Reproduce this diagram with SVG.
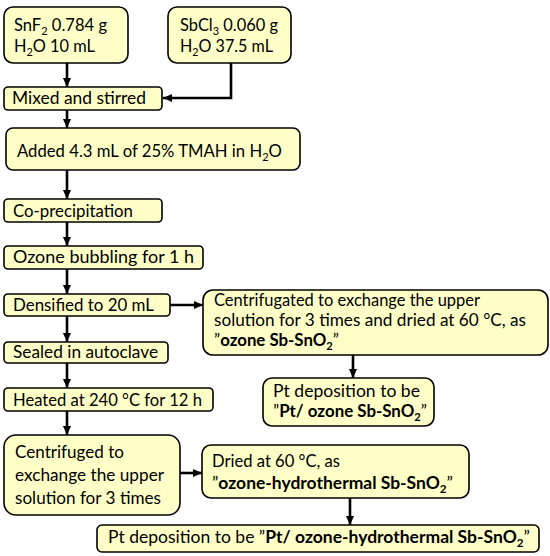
<svg xmlns="http://www.w3.org/2000/svg" width="550" height="556" viewBox="0 0 550 556">
<defs>
<marker id="ah" viewBox="0 0 10 10" refX="10" refY="5" markerWidth="3.6" markerHeight="3.6" markerUnits="strokeWidth" orient="auto">
<path d="M0,0.5 L10,5 L0,9.5 Z" fill="#000"/>
</marker>
<style>
.box{fill:#FFFFC8;stroke:#000;stroke-width:1.6}
text{font-family:Lato,"Open Sans","Liberation Sans",sans-serif;font-size:16.5px;fill:#000}
.b{font-weight:bold}
.s{font-size:11px}
.c{fill:none;stroke:#000;stroke-width:2.6;marker-end:url(#ah)}
</style>
</defs>
<rect width="550" height="556" fill="#fff"/>
<g id="connectors">
<path class="c" d="M67,63 V87"/>
<path class="c" d="M231,63 V98 H163"/>
<path class="c" d="M67,110 V128"/>
<path class="c" d="M67,170 V199"/>
<path class="c" d="M67,222 V246"/>
<path class="c" d="M67,269 V294"/>
<path class="c" d="M170,305 H203"/>
<path class="c" d="M67,316 V342"/>
<path class="c" d="M67,363 V388"/>
<path class="c" d="M67,411 V435"/>
<path class="c" d="M353,355 V378"/>
<path class="c" d="M180,473 H202"/>
<path class="c" d="M350,498 V525"/>
</g>
<g id="n1"><rect class="box" x="4" y="7" width="124" height="56" rx="9"/>
<text x="14" y="31" textLength="93" lengthAdjust="spacingAndGlyphs">SnF<tspan class="s" dy="4">2</tspan><tspan dy="-4"> 0.784 g</tspan></text>
<text x="14" y="52" textLength="81" lengthAdjust="spacingAndGlyphs">H<tspan class="s" dy="4">2</tspan><tspan dy="-4">O 10 mL</tspan></text></g>
<g id="n2"><rect class="box" x="168" y="7" width="123" height="56" rx="9"/>
<text x="180" y="31" textLength="98" lengthAdjust="spacingAndGlyphs">SbCl<tspan class="s" dy="4">3</tspan><tspan dy="-4"> 0.060 g</tspan></text>
<text x="180" y="52" textLength="93" lengthAdjust="spacingAndGlyphs">H<tspan class="s" dy="4">2</tspan><tspan dy="-4">O 37.5 mL</tspan></text></g>
<g id="n3"><rect class="box" x="4" y="87" width="158" height="23" rx="4"/>
<text x="12" y="104" textLength="134" lengthAdjust="spacingAndGlyphs">Mixed and stirred</text></g>
<g id="n4"><rect class="box" x="6" y="128" width="294" height="42" rx="7"/>
<text x="17" y="157" textLength="265" lengthAdjust="spacingAndGlyphs">Added 4.3 mL of 25% TMAH in H<tspan class="s" dy="4">2</tspan><tspan dy="-4">O</tspan></text></g>
<g id="n5"><rect class="box" x="4" y="199" width="158" height="23" rx="4"/>
<text x="13" y="217" textLength="120" lengthAdjust="spacingAndGlyphs">Co-precipitation</text></g>
<g id="n6"><rect class="box" x="4" y="246" width="199" height="23" rx="4"/>
<text x="13" y="263" textLength="181" lengthAdjust="spacingAndGlyphs">Ozone bubbling for 1 h</text></g>
<g id="n7"><rect class="box" x="4" y="294" width="166" height="22" rx="4"/>
<text x="13" y="311" textLength="141" lengthAdjust="spacingAndGlyphs">Densified to 20 mL</text></g>
<g id="n8"><rect class="box" x="203" y="290" width="345" height="65" rx="10"/>
<text x="214" y="306" textLength="266" lengthAdjust="spacingAndGlyphs">Centrifugated to exchange the upper</text>
<text x="214" y="326" textLength="312" lengthAdjust="spacingAndGlyphs">solution for 3 times and dried at 60 °C, as</text>
<text x="214" y="346" textLength="125" lengthAdjust="spacingAndGlyphs">”<tspan class="b">ozone Sb-SnO<tspan class="s" dy="4">2</tspan></tspan><tspan dy="-4">”</tspan></text></g>
<g id="n9"><rect class="box" x="4" y="342" width="164" height="21" rx="4"/>
<text x="13" y="358" textLength="145" lengthAdjust="spacingAndGlyphs">Sealed in autoclave</text></g>
<g id="n10"><rect class="box" x="263" y="378" width="171" height="48" rx="9"/>
<text x="273" y="397" textLength="147" lengthAdjust="spacingAndGlyphs">Pt deposition to be</text>
<text x="273" y="417" textLength="154" lengthAdjust="spacingAndGlyphs">”<tspan class="b">Pt/ ozone Sb-SnO<tspan class="s" dy="4">2</tspan></tspan><tspan dy="-4">”</tspan></text></g>
<g id="n11"><rect class="box" x="4" y="388" width="209" height="23" rx="4"/>
<text x="13" y="406" textLength="189" lengthAdjust="spacingAndGlyphs">Heated at 240 °C for 12 h</text></g>
<g id="n12"><rect class="box" x="4" y="435" width="176" height="80" rx="12"/>
<text x="15" y="458" textLength="109" lengthAdjust="spacingAndGlyphs">Centrifuged to</text>
<text x="15" y="481" textLength="149" lengthAdjust="spacingAndGlyphs">exchange the upper</text>
<text x="15" y="504" textLength="146" lengthAdjust="spacingAndGlyphs">solution for 3 times</text></g>
<g id="n13"><rect class="box" x="202" y="445" width="267" height="53" rx="9"/>
<text x="212" y="467" textLength="128" lengthAdjust="spacingAndGlyphs">Dried at 60 °C, as</text>
<text x="212" y="489" textLength="241" lengthAdjust="spacingAndGlyphs">”<tspan class="b">ozone-hydrothermal Sb-SnO<tspan class="s" dy="4">2</tspan></tspan><tspan dy="-4">”</tspan></text></g>
<g id="n14"><rect class="box" x="97" y="525" width="442" height="27" rx="5"/>
<text x="108" y="543" textLength="422" lengthAdjust="spacingAndGlyphs">Pt deposition to be ”<tspan class="b">Pt/ ozone-hydrothermal Sb-SnO<tspan class="s" dy="4">2</tspan></tspan><tspan dy="-4">”</tspan></text></g>
</svg>
